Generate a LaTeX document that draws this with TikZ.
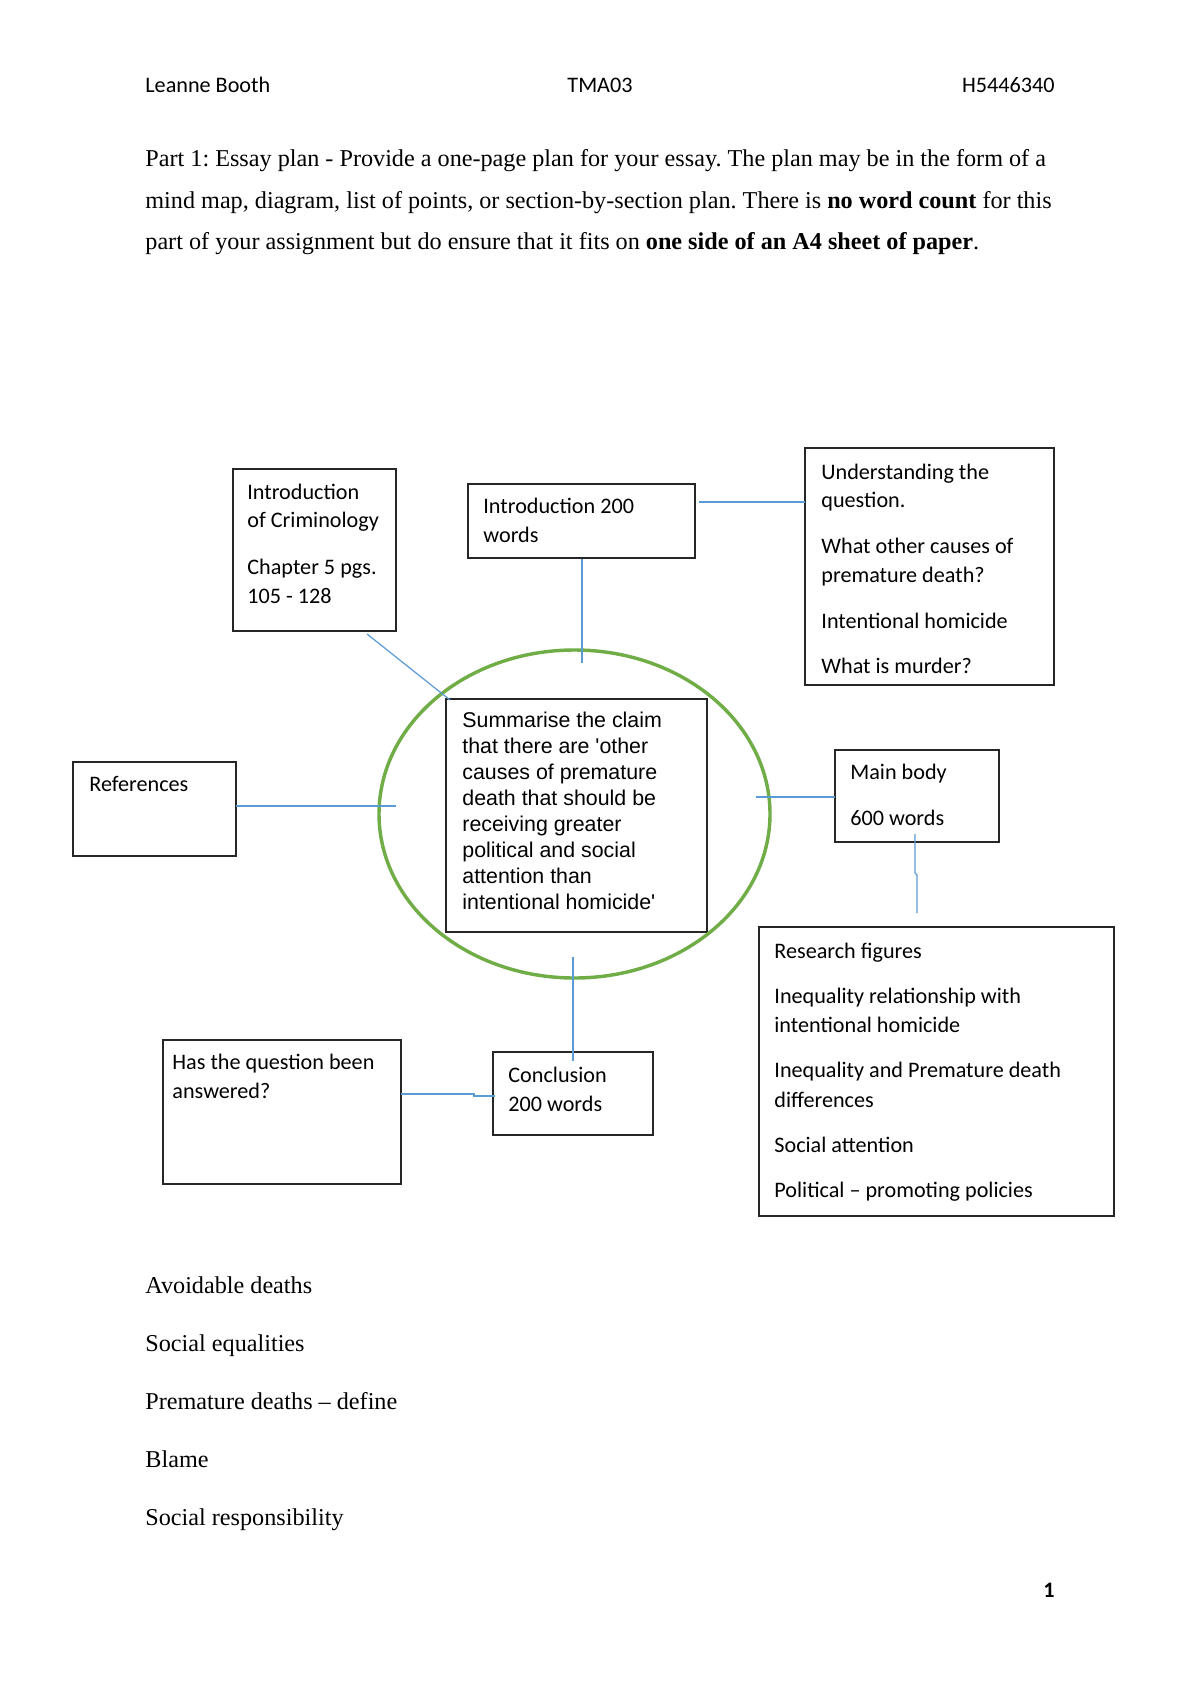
\documentclass[tikz,border=0pt]{standalone}
\usepackage{fontspec}
\setmainfont{Liberation Serif}
\newfontfamily\carl{Carlito}
\newfontfamily\arl{Liberation Sans}
\usetikzlibrary{fit}
\definecolor{connblue}{HTML}{5B9BD5}
\definecolor{ellgreen}{HTML}{70AD47}
\frenchspacing
\begin{document}
\begin{tikzpicture}[x=0.49608pt,y=-0.49608pt,
  box/.style={draw=black!85, line width=0.75pt, inner sep=0pt},
  conn/.style={draw=connblue, line width=0.6pt},
  bt/.style={anchor=base west, inner sep=0pt, font=\carl\fontsize{11}{13}\selectfont},
  ct/.style={anchor=base west, inner sep=0pt, font=\arl\fontsize{10.6}{13}\selectfont},
  st/.style={anchor=base west, inner sep=0pt, font=\fontsize{12}{14}\selectfont},
  hd/.style={inner sep=0pt, font=\carl\fontsize{11}{13}\selectfont}]
\useasboundingbox[fill=white] (0,0) rectangle (1200,1698);

% header
\node[hd, anchor=base west] (hname) at (145,93) {Leanne Booth};
\node[hd, anchor=base] (htma) at (600,93) {TMA03};
\node[hd, anchor=base east] (hid) at (1055,93) {H5446340};

% instructions
\node[st] (p1) at (145,167) {Part 1: Essay plan - Provide a one-page plan for your essay. The plan may be in the form of a};
\node[st] (p2) at (145,209) {mind map, diagram, list of points, or section-by-section plan. There is \textbf{no word count} for this};
\node[st] (p3) at (145,250) {part of your assignment but do ensure that it fits on \textbf{one side of an A4 sheet of paper}.};

% boxes
\node[box, fit={(233,469) (396,631)}] (crim) {};
\node[box, fit={(468,484) (695,558)}] (intro) {};
\node[box, fit={(805,448) (1054,685)}] (und) {};
\node[box, fit={(73,762) (236,856)}] (refs) {};
\node[box, fit={(446,699) (707,932)}] (cbox) {};
\node[box, fit={(835,750) (999,842)}] (mainb) {};
\node[box, fit={(759,927) (1114,1216)}] (res) {};
\node[box, fit={(493,1052) (653,1135)}] (conc) {};
\node[box, fit={(163,1040) (401,1184)}] (hasq) {};

% green ellipse
\draw[ellgreen, line width=1.7pt] (574.5,814) ellipse [x radius=195.5, y radius=164];

% box texts
\node[bt] (crim1) at (247,499) {Introduction};
\node[bt] (crim2) at (247,527) {of Criminology};
\node[bt] (crim3) at (247,574) {Chapter 5 pgs.};
\node[bt] (crim4) at (247,603) {105 - 128};

\node[bt] (intro1) at (483,513) {Introduction 200};
\node[bt] (intro2) at (483,542) {words};

\node[bt] (und1) at (821,479) {Understanding the};
\node[bt] (und2) at (821,507) {question.};
\node[bt] (und3) at (821,553) {What other causes of};
\node[bt] (und4) at (821,582) {premature death?};
\node[bt] (und5) at (821,628) {Intentional homicide};
\node[bt] (und6) at (821,673) {What is murder?};

\node[bt] (refs1) at (89,791) {References};

\node[bt] (mb1) at (850,779) {Main body};
\node[bt] (mb2) at (850,825) {600 words};

\node[bt] (res1) at (774,958) {Research figures};
\node[bt] (res2) at (774,1003) {Inequality relationship with};
\node[bt] (res3) at (774,1032) {intentional homicide};
\node[bt] (res4) at (774,1077) {Inequality and Premature death};
\node[bt] (res5) at (774,1107) {differences};
\node[bt] (res6) at (774,1152) {Social attention};
\node[bt] (res7) at (774,1197) {Political – promoting policies};

\node[bt] (conc1) at (508,1082) {Conclusion};
\node[bt] (conc2) at (508,1111) {200 words};

\node[bt] (hasq1) at (172,1069) {Has the question been};
\node[bt] (hasq2) at (172,1098) {answered?};

% centre text
\foreach \t [count=\i from 0] in {Summarise the claim, that there are \textquotesingle other, causes of premature, death that should be, receiving greater, political and social, attention than, intentional homicide\textquotesingle}
  \node[ct] (cl\i) at (462,{727+26.1*\i}) {\t};

% connectors
\coordinate (k1a) at (367,634); \coordinate (k1b) at (450,700);
\draw[conn] (k1a) -- (k1b);
\coordinate (k2a) at (582,559); \coordinate (k2b) at (582,663);
\draw[conn] (k2a) -- (k2b);
\coordinate (k3a) at (699,502); \coordinate (k3b) at (805,502);
\draw[conn] (k3a) -- (k3b);
\coordinate (k4a) at (236,806); \coordinate (k4b) at (396,806);
\draw[conn] (k4a) -- (k4b);
\coordinate (k5a) at (756,797); \coordinate (k5b) at (835,797);
\draw[conn] (k5a) -- (k5b);
\coordinate (k6a) at (915,834); \coordinate (k6b) at (917,913);
\draw[conn] (k6a) -- (915,873) -- (917,875) -- (k6b);
\coordinate (k7a) at (573,957); \coordinate (k7b) at (573,1061);
\draw[conn] (k7a) -- (k7b);
\coordinate (k8a) at (401,1094); \coordinate (k8b) at (495,1096);
\draw[conn] (k8a) -- (474,1094) -- (474,1096) -- (k8b);

% list below
\foreach \t [count=\i from 0] in {Avoidable deaths, Social equalities, Premature deaths – define, Blame, Social responsibility}
  \node[st] (li\i) at (145,{1293+58*\i}) {\t};

\node[anchor=base east, inner sep=0pt, font=\carl\bfseries\fontsize{11}{13}\selectfont] (pnum) at (1055,1597) {1};
\end{tikzpicture}
\end{document}
